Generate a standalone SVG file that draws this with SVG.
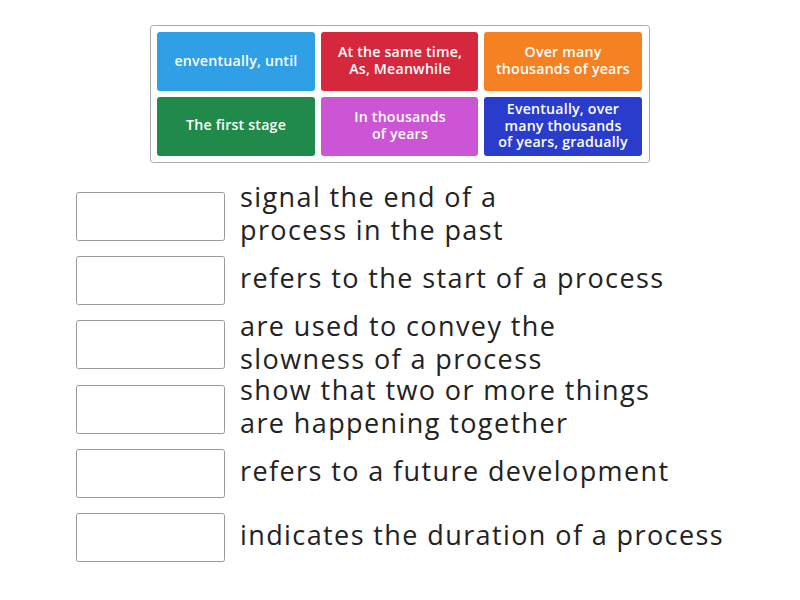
<svg xmlns="http://www.w3.org/2000/svg" width="800" height="600" viewBox="0 0 800 600">
<style>
.t{font-family:"Open Sans",sans-serif;font-weight:600;font-size:14.2px;letter-spacing:0.2px;fill:#fff;text-anchor:middle}
.l{font-family:"Open Sans",sans-serif;font-size:27px;letter-spacing:1.4px;fill:#222}
.b{fill:#fff;stroke:#999;stroke-width:1}
</style>
<rect width="800" height="600" fill="#fff"/>
<rect x="150.5" y="25.5" width="499" height="137" rx="3" fill="#fff" stroke="#aaa"/>
<g id="tile1"><rect x="157" y="32" width="158" height="59" rx="3" fill="#2fa0e6"/><text class="t" x="236" y="66">enventually, until</text></g>
<g id="tile2"><rect x="321" y="32" width="157" height="59" rx="3" fill="#d6283c"/><text class="t" x="400" y="57">At the same time,</text><text class="t" x="400" y="74">As, Meanwhile</text></g>
<g id="tile3"><rect x="484" y="32" width="158" height="59" rx="3" fill="#f68122"/><text class="t" x="563" y="57">Over many</text><text class="t" x="563" y="74">thousands of years</text></g>
<g id="tile4"><rect x="157" y="97" width="158" height="59" rx="3" fill="#1f8a49"/><text class="t" x="236" y="130">The first stage</text></g>
<g id="tile5"><rect x="321" y="97" width="157" height="59" rx="3" fill="#cc55d6"/><text class="t" x="400" y="122">In thousands</text><text class="t" x="400" y="139">of years</text></g>
<g id="tile6"><rect x="484" y="97" width="158" height="59" rx="3" fill="#2a3ccc"/><text class="t" x="563" y="114">Eventually, over</text><text class="t" x="563" y="131">many thousands</text><text class="t" x="563" y="147">of years, gradually</text></g>
<g id="row1"><rect class="b" x="76.5" y="192.5" width="148" height="48" rx="2"/><text class="l" x="240" y="207">signal the end of a</text><text class="l" x="240" y="240">process in the past</text></g>
<g id="row2"><rect class="b" x="76.5" y="256.5" width="148" height="48" rx="2"/><text class="l" x="240" y="288">refers to the start of a process</text></g>
<g id="row3"><rect class="b" x="76.5" y="320.5" width="148" height="48" rx="2"/><text class="l" x="240" y="336">are used to convey the</text><text class="l" x="240" y="369">slowness of a process</text></g>
<g id="row4"><rect class="b" x="76.5" y="385.5" width="148" height="48" rx="2"/><text class="l" x="240" y="400">show that two or more things</text><text class="l" x="240" y="433">are happening together</text></g>
<g id="row5"><rect class="b" x="76.5" y="449.5" width="148" height="48" rx="2"/><text class="l" x="240" y="481">refers to a future development</text></g>
<g id="row6"><rect class="b" x="76.5" y="513.5" width="148" height="48" rx="2"/><text class="l" x="240" y="545">indicates the duration of a process</text></g>
<g id="connectors"/>
</svg>
